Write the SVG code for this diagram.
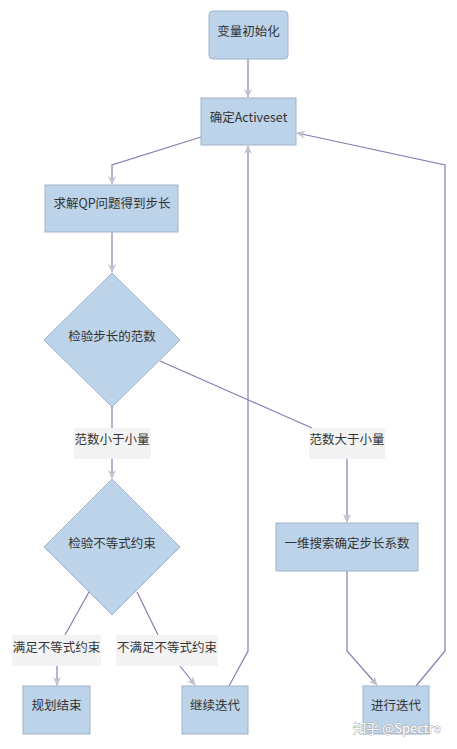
<svg xmlns="http://www.w3.org/2000/svg" width="457" height="749" viewBox="0 0 457 749">
<defs>
<style>
.box{fill:#bcd3ea;stroke:#9fb3c8;stroke-width:1}
.lbl{fill:#f3f3f3}
.t{font-family:"Noto Sans CJK SC","Liberation Sans",sans-serif;font-size:12.5px;fill:#333;text-anchor:middle;dominant-baseline:central}
.c{fill:none;stroke:#8c7bb0;stroke-width:1.2}
.wm{font-family:"Noto Sans CJK SC","Liberation Sans",sans-serif;font-size:13px;fill:#ffffff;stroke:#a8a8a8;stroke-width:0.8;paint-order:stroke}
</style>
<marker id="ah" markerWidth="10" markerHeight="10" refX="8" refY="5" orient="auto" markerUnits="userSpaceOnUse">
<path d="M0,1 L9,5 L0,9 L2.5,5 Z" fill="#c2c2cc"/>
</marker>
</defs>
<rect width="457" height="749" fill="#ffffff"/>
<g id="connectors">
<path class="c" d="M248,59 L248,97" marker-end="url(#ah)"/>
<path class="c" d="M201,137 L112,165 L112,184" marker-end="url(#ah)"/>
<path class="c" d="M112,232 L112,272" marker-end="url(#ah)"/>
<path class="c" d="M112,407 L112,428"/>
<path class="c" d="M112,459 L112,478" marker-end="url(#ah)"/>
<path class="c" d="M160,361 L312,428"/>
<path class="c" d="M347,459 L347,522" marker-end="url(#ah)"/>
<path class="c" d="M89,592 L65,635"/>
<path class="c" d="M137,592 L158,635"/>
<path class="c" d="M57,666 L57,685" marker-end="url(#ah)"/>
<path class="c" d="M180,666 L195,685" marker-end="url(#ah)"/>
<path class="c" d="M229,686 L248,651 L248,146" marker-end="url(#ah)"/>
<path class="c" d="M347,571 L347,651 L377,685" marker-end="url(#ah)"/>
<path class="c" d="M416,686 L445,651 L445,165 L297,133" marker-end="url(#ah)"/>
</g>
<g id="n1"><rect class="box" x="209" y="11" width="79" height="48" rx="4"/><text class="t" x="248.5" y="30">变量初始化</text></g>
<g id="n2"><rect class="box" x="201" y="98" width="95" height="47"/><text class="t" x="248.5" y="116">确定Activeset</text></g>
<g id="n3"><rect class="box" x="45" y="185" width="133" height="47"/><text class="t" x="112" y="202">求解QP问题得到步长</text></g>
<g id="n4"><polygon class="box" points="112,273 180,340 112,407 44,340" stroke="none"/><text class="t" x="112" y="335">检验步长的范数</text></g>
<g id="l1"><rect class="lbl" x="74" y="428" width="77" height="31"/><text class="t" x="112" y="438">范数小于小量</text></g>
<g id="l2"><rect class="lbl" x="309" y="428" width="76" height="31"/><text class="t" x="347" y="438">范数大于小量</text></g>
<g id="n5"><polygon class="box" points="112,479 180,547 112,615 44,547" stroke="none"/><text class="t" x="112" y="542">检验不等式约束</text></g>
<g id="n6"><rect class="box" x="276" y="523" width="142" height="48"/><text class="t" x="347" y="542">一维搜索确定步长系数</text></g>
<g id="l3"><rect class="lbl" x="12" y="635" width="89" height="31"/><text class="t" x="56.5" y="646">满足不等式约束</text></g>
<g id="l4"><rect class="lbl" x="116" y="635" width="102" height="31"/><text class="t" x="167" y="646">不满足不等式约束</text></g>
<g id="n7"><rect class="box" x="23" y="686" width="67" height="48"/><text class="t" x="56.5" y="704">规划结束</text></g>
<g id="n8"><rect class="box" x="182" y="686" width="66" height="48"/><text class="t" x="215" y="704">继续迭代</text></g>
<g id="n9"><rect class="box" x="363" y="686" width="66" height="48"/><text class="t" x="396" y="704">进行迭代</text></g>
<text class="wm" x="353" y="733">知乎 @Spectre</text>
</svg>
